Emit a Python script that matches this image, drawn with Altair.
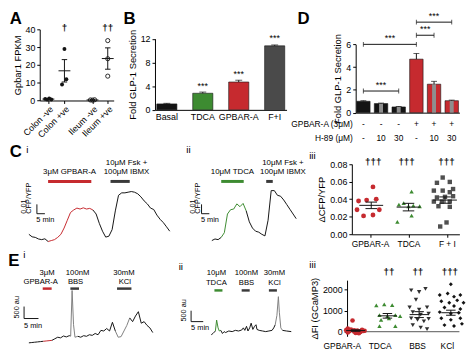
import altair as alt
import pandas as pd

FONT = 'Liberation Sans'
W_TOT, H_TOT = 458, 347
BLACK = '#141414'; RED = '#c62a2f'; GREEN = '#3d8b31'; DGRAY = '#4a4a4a'
MGRAY = '#808080'; STRIPE = '#8e8e8e'; BARG = '#3a3a3a'


def PX(x):  # reference-figure x -> chart pixel
    return 0.975 * (x - 2)


def PY(y):  # reference-figure y -> chart pixel
    return 0.95 * (y - 2)


# ---------------- Panel A data ----------------
A_labels = ['Colon -ve', 'Colon +ve', 'Ileum -ve', 'Ileum +ve']
A_pos = [1, 2, 3.75, 4.7]
A_x = [[0.8, 0.92, 1.05, 1.18], [2.0, 2.12, 1.85], [3.62, 3.75, 3.88], [4.7, 4.7, 4.7]]
A_y = [[0.9, 0.5, 1.1, 0.6], [29, 12, 9], [0.3, 0.2, 0.4], [33.7, 23.5, 13.7]]
A_filled = [True, True, False, False]
A_mean = [0.8, 16.7, 0.3, 23.6]
A_sem = [0.15, 6.3, 0.1, 6.0]
A_marks = ['', '†', '', '††']
# panel letters of the top row, placed in panel A's coordinates
ROW1_letters = ['A', 'B', 'D']
ROW1_letter_x = [-1.04, 6.06, 16.9]

# ---------------- Panel B data ----------------
B_cats = ['Basal', 'TDCA', 'GPBAR-A', 'F+I']
B_vals = [1.0, 2.8, 4.7, 10.8]
B_err = [0.1, 0.2, 0.3, 0.15]
B_cols = [BLACK, GREEN, RED, DGRAY]
B_sig = ['', '***', '***', '***']

# ---------------- Panel D data ----------------
D_ids = ['d1', 'd2', 'd3', 'd4', 'd5', 'd6']
D_vals = [1.0, 0.8, 0.5, 4.7, 2.5, 1.05]
D_err = [0.05, 0.04, 0.04, 0.5, 0.25, 0.05]
D_cols = [BLACK, BLACK, BLACK, RED, RED, RED]
D_striped = [False, True, True, False, True, True]
D_gpbar = ['-', '-', '-', '+', '+', '+']
D_h89 = ['-', '10', '30', '-', '10', '30']
D_br_from = ['d1', 'd1', 'd4', 'd4']
D_br_to = ['d3', 'd4', 'd5', 'd6']
D_br_y = [1.9, 6.0, 6.8, 7.95]
D_br_txt = ['d2', 'd2', 'd4', 'd5']
D_br_dx = [0, 9, 9, 0]

# ---------------- Panel C traces ----------------
Ci_t = list(range(0, 90, 2))
Ci_v = [10.0, 7.3, 6.7, 5.0, 4.3, 5.2, 2.3, 3.3, 4.3, 6.7, 10.0, 16.7, 25.0, 33.3, 36.0,
        38.0, 37.0, 38.3, 37.0, 37.7, 36.0, 31.7, 21.7, 13.3, 7.0, 8.0, 15.0, 35.0, 51.7,
        54.3, 54.3, 55.0, 55.7, 55.0, 53.3, 50.0, 45.7, 42.5, 38.0, 36.5, 30.5, 26.0, 22.5,
        18.0, 13.3]
Ci_segs = [(0, 12, BLACK), (12, 40, RED), (40, 88, BLACK)]
Cii_t = list(range(0, 56, 2))
Cii_v = [3.3, 5.0, 4.3, 6.7, 11.7, 31.7, 36.3, 37.0, 42.5, 39.5, 43.0, 35.0, 23.3, 16.7,
         13.3, 12.3, 10.0, 8.3, 25.0, 56.7, 56.7, 51.7, 50.7, 46.7, 41.7, 36.7, 31.7, 26.7]
Cii_segs = [(0, 6, BLACK), (6, 22, GREEN), (22, 54, BLACK)]

# ---------------- Panel C iii ----------------
Ciii_labels = ['GPBAR-A', 'TDCA', 'F + I']
Ciii_gp_x = [1.075, 0.70, 0.91, 1.16, 0.66, 0.83, 1.075, 1.24]
Ciii_gp_y = [0.054, 0.038, 0.039, 0.040, 0.028, 0.021, 0.022, 0.028]
Ciii_td_x = [2.08, 1.875, 1.75, 2.0, 2.125, 2.29, 1.71, 2.08]
Ciii_td_y = [0.0487, 0.0356, 0.0338, 0.032, 0.0327, 0.032, 0.0142, 0.0213]
Ciii_fi_x = [2.89, 3.075, 2.74, 3.16, 2.66, 2.89, 3.075, 2.74, 2.95, 3.16, 2.66, 2.87, 3.075,
             2.78, 3.075, 2.99, 2.825]
Ciii_fi_y = [0.0647, 0.0597, 0.0587, 0.0516, 0.0498, 0.0498, 0.048, 0.042, 0.0427, 0.0434,
             0.0373, 0.0373, 0.0373, 0.032, 0.0313, 0.0135, 0.0089]
Ciii_mpos = [1.03, 2.0, 2.95]
Ciii_mean = [0.033, 0.031, 0.039]
Ciii_sem = [0.0037, 0.0043, 0.0036]

# ---------------- Panel E traces ----------------
Ei_t = [0, 1, 2, 3, 4, 5, 6, 7, 8, 9, 10, 11, 12, 13, 14, 14.5, 15, 15.5, 16, 17, 18, 19, 20,
        21, 22, 23, 24, 25, 26, 27, 28, 29, 30, 31, 32, 33, 34, 35, 36, 37, 38, 39, 40, 41,
        42, 43]
Ei_v = [156, 169, 182, 195, 208, 221, 234, 247, 260, 325, 390, 364, 442, 403, 455, 442, 2340,
        910, 390, 429, 390, 455, 429, 494, 468, 546, 494, 676, 650, 754, 650, 1014, 650, 390,
        416, 650, 884, 1196, 1040, 1274, 1456, 975, 1040, 884, 780, 585]
Ei_segs = [(0, 5, BLACK), (5, 8, RED), (8, 14.5, BLACK), (14.5, 17, MGRAY), (17, 30, BLACK),
           (30, 35, MGRAY), (35, 43, BLACK)]
Eii_t = [0, 0.7, 1.7, 2.2, 2.8, 3.3, 3.9, 4.6, 5.3, 5.9, 7.2, 8.6, 9.9, 11.2, 12.5, 13.2, 13.8,
         14.5, 15.1, 15.8, 16.4, 17.1, 17.8, 18.4, 18.8, 19.7, 21.1, 22.4, 23.7, 25.0, 25.7,
         26.3, 27.0, 27.6, 28.0, 28.6, 29.3, 30.9, 32.9]
Eii_v = [114, 172, 286, 787, 429, 286, 315, 172, 257, 215, 286, 257, 315, 286, 329, 429, 315,
         500, 286, 429, 644, 358, 500, 572, 358, 315, 286, 257, 286, 315, 429, 572, 1001, 1859,
         1144, 429, 315, 286, 257]
Eii_segs = [(0, 1.7, BLACK), (1.7, 3.9, GREEN), (3.9, 26.3, BLACK), (26.3, 29.3, MGRAY),
            (29.3, 32.9, BLACK)]

# ---------------- Panel E iii ----------------
Eiii_labels = ['GPBAR-A', 'TDCA', 'BBS', 'KCl']
Eiii_label_x = [0.58, 1.77, 2.95, 3.89]
E_gp_y = [530, 150, 100, 80, 60, 50, 30, 20, 10, 0, -20, -40, -60, 40, 70, -80]
E_gp_dx = [-0.1, -0.25, -0.15, 0.2, -0.05, 0.05, 0.25, -0.2, 0.1, -0.05, 0.15, -0.25, 0.0, 0.28, -0.3, 0.1]
E_td_y = [1250, 1290, 1260, 780, 740, 780, 740, 560, 630, 265, 265]
E_td_dx = [-0.35, -0.1, 0.15, -0.25, 0.0, 0.25, 0.4, -0.2, 0.05, -0.25, 0.25]
E_bbs_y = [1955, 1880, 2030, 1514, 1147, 1044, 1147, 926, 808, 853, 632, 559, 485, 603, 309, 191, 118]
E_bbs_dx = [-0.25, 0, 0.2, -0.1, -0.3, 0, 0.25, -0.2, 0.05, 0.3, -0.25, -0.05, 0.15, 0.3, -0.2, 0.05, 0.25]
E_kcl_y = [2250, 1735, 1808, 1661, 1735, 1440, 1367, 1485, 1367, 1147, 1220, 1073, 926, 853, 897,
           632, 559, 632, 309, 265, 368]
E_kcl_dx = [0, -0.35, -0.1, 0.1, 0.3, -0.3, -0.05, 0.2, 0.4, -0.2, 0.1, 0.3, -0.35, 0, 0.25, -0.3,
            0, 0.3, -0.2, 0.1, 0.35]
E_mean = [50, 750, 808, 897]
E_sem = [35, 110, 140, 120]


# ================= helpers =================
def left_axis(x0, **kw):
    base = dict(orient='left', offset=-PX(x0), tickSize=3, titlePadding=3, labelOverlap=False,
                labelFlush=False, grid=False)
    base.update(kw)
    return alt.Axis(**base)


def bottom_axis(y0, **kw):
    base = dict(orient='bottom', offset=PY(y0) - H_TOT, tickSize=3, labelOverlap=False,
                labelFlush=False, grid=False, title=None)
    base.update(kw)
    return alt.Axis(**base)


def QX(dom, xr, axis=None):
    sc = alt.Scale(domain=dom, range=[PX(xr[0]), PX(xr[1])], nice=False, zero=False)
    return lambda f: alt.X(f, type='quantitative', scale=sc, axis=axis)


def QY(dom, yr, axis=None):
    sc = alt.Scale(domain=dom, range=[PY(yr[0]), PY(yr[1])], nice=False, zero=False)
    return lambda f: alt.Y(f, type='quantitative', scale=sc, axis=axis)


def texts(rows, X, Y, **kw):
    base = dict(font=FONT, fontSize=8, color='black', align='center', baseline='middle')
    base.update(kw)
    df = pd.DataFrame(rows, columns=['x', 'y', 'label'])
    return alt.Chart(df).mark_text(**base).encode(x=X('x'), y=Y('y'), text='label:N')


def rules(rows, X, Y):
    df = pd.DataFrame(rows, columns=['x', 'x2', 'y', 'y2', 'col', 'w'])
    return alt.Chart(df).mark_rule().encode(
        x=X('x'), x2='x2', y=Y('y'), y2='y2',
        color=alt.Color('col:N', scale=None), strokeWidth=alt.StrokeWidth('w:Q', scale=None))


def trace(t, v, segs, X, Y):
    rows = []
    for k, (a, b, col) in enumerate(segs):
        for ti, vi in zip(t, v):
            if a <= ti <= b:
                rows.append({'t': ti, 'v': vi, 'seg': k, 'col': col})
    df = pd.DataFrame(rows)
    return alt.Chart(df).mark_line(strokeWidth=1).encode(
        x=X('t'), y=Y('v'), detail='seg:N', order='t:Q', color=alt.Color('col:N', scale=None))


def summary(X, Y, mpos, means, sems, hw, cw):
    r = []
    for p, m, s in zip(mpos, means, sems):
        r.append((p - hw, p + hw, m, m, BLACK, 1))
        r.append((p, p, m - s, m + s, BLACK, 1))
        r.append((p - cw, p + cw, m + s, m + s, BLACK, 1))
        r.append((p - cw, p + cw, m - s, m - s, BLACK, 1))
    return rules(r, X, Y)


def label_expr(pos, labels):
    s = ''
    for p, l in zip(pos[:-1], labels[:-1]):
        s += f"datum.value == {p} ? '{l}' : "
    return s + f"'{labels[-1]}'"


DAG = dict(fontSize=10, fontWeight='bold', color='#111111')

# ================= Panel A =================
XA = QX([0.46, 5.07], (33, 110), bottom_axis(
    97, values=A_pos, labelExpr=label_expr(A_pos, A_labels), labelAngle=-45,
    labelAlign='right', labelBaseline='top', labelPadding=1))
YA = QY([0, 40], (97, 21), left_axis(33, values=[0, 10, 20, 30, 40], title='Gpbar1 FPKM'))
pts = []
for xs, ys, f in zip(A_x, A_y, A_filled):
    for xx, yy in zip(xs, ys):
        pts.append({'x': xx, 'y': yy, 'filled': f})
dfA = pd.DataFrame(pts)
panelA = alt.layer(
    alt.Chart(dfA[dfA.filled]).mark_point(filled=True, size=16, color=BLACK, opacity=1).encode(x=XA('x'), y=YA('y')),
    alt.Chart(dfA[~dfA.filled]).mark_point(filled=False, size=18, color=BLACK, strokeWidth=0.9, opacity=1).encode(x=XA('x'), y=YA('y')),
    summary(XA, YA, A_pos, A_mean, A_sem, 0.37, 0.17),
    texts([(p, 41, m) for p, m in zip(A_pos, A_marks) if m], XA, YA, **DAG),
    texts([(x, 50, l) for x, l in zip(ROW1_letter_x, ROW1_letters)], XA, YA, fontSize=17,
          fontWeight='bold', baseline='top'),
)

# ================= Panel B =================
scB = alt.Scale(domain=B_cats, range=[PX(153), PX(290)], paddingInner=0.44, paddingOuter=0.05)
axBx = bottom_axis(107, ticks=False, labelAngle=0, labelPadding=3)
XB = lambda f: alt.X(f, type='nominal', scale=scB, axis=axBx, sort=B_cats)
YB = QY([0, 12], (107, 31), left_axis(153, values=[0, 4, 8, 12], title='Fold GLP-1 Secretion'))
dfB = pd.DataFrame({'x': B_cats, 'val': B_vals,
                    'top': [v + e for v, e in zip(B_vals, B_err)], 'col': B_cols, 'sig': B_sig})
dfB['sy'] = dfB['top'] + 1.1
panelB = alt.layer(
    alt.Chart(dfB).mark_bar(stroke=BLACK, strokeWidth=0.6).encode(
        x=XB('x'), y=YB('val'), color=alt.Color('col:N', scale=None)),
    alt.Chart(dfB).mark_rule(color=BLACK).encode(x=XB('x'), y=YB('val'), y2='top'),
    alt.Chart(dfB).mark_tick(color=BLACK, thickness=1, size=7).encode(x=XB('x'), y=YB('top')),
    alt.Chart(dfB).mark_text(font=FONT, fontSize=9, baseline='middle').encode(
        x=XB('x'), y=YB('sy'), text='sig:N'),
)

# ================= Panel D =================
scD = alt.Scale(domain=D_ids, range=[PX(362), PX(470)], paddingInner=0.24, paddingOuter=0.055)
axDx = bottom_axis(110, labels=False, ticks=False)
XD = lambda f: alt.X(f, type='nominal', scale=scD, axis=axDx, sort=D_ids)
YD = QY([0, 6], (110, 37), left_axis(362, values=[0, 2, 4, 6], title='Fold GLP-1 Secretion'))
dfD = pd.DataFrame({'x': D_ids, 'val': D_vals, 'top': [v + e for v, e in zip(D_vals, D_err)],
                    'col': D_cols, 'striped': D_striped})
dfBr = pd.DataFrame({'x': D_br_from, 'x2': D_br_to, 'y': D_br_y})
dfBt = pd.DataFrame({'x': D_br_from + D_br_to, 'y': D_br_y + D_br_y})
panelD = alt.layer(
    alt.Chart(dfD).mark_bar(stroke=BLACK, strokeWidth=0.6).encode(
        x=XD('x'), y=YD('val'), color=alt.Color('col:N', scale=None)),
    alt.Chart(dfD[dfD.striped]).mark_bar(size=4, color=STRIPE).encode(x=XD('x'), y=YD('val')),
    alt.Chart(dfD).mark_rule(color=BLACK).encode(x=XD('x'), y=YD('val'), y2='top'),
    alt.Chart(dfD).mark_tick(color=BLACK, thickness=1, size=6).encode(x=XD('x'), y=YD('top')),
    alt.Chart(dfBr).mark_rule(color=BLACK).encode(x=XD('x'), x2='x2', y=YD('y')),
    alt.Chart(dfBt).mark_tick(color=BLACK, orient='vertical', size=5, thickness=1).encode(x=XD('x'), y=YD('y')),
    *[texts([(c, y + 0.55, '***')], XD, YD, fontSize=9, dx=d) for c, y, d in zip(D_br_txt, D_br_y, D_br_dx)],
    texts([(c, -0.98, s) for c, s in zip(D_ids, D_gpbar)], XD, YD, fontSize=8.5),
    texts([(c, -2.2, s) for c, s in zip(D_ids, D_h89)], XD, YD, fontSize=8.5),
    texts([('d1', -0.98, 'GPBAR-A (3μM)'), ('d1', -2.2, 'H-89 (μM)')], XD, YD, fontSize=8.5,
          align='right', dx=-10.7),
)

# ================= Panel C i =================
XCi = QX([-6, 90], (11.7, 171.7)); YCi = QY([0, 90], (250, 160))
panelCi = alt.layer(
    trace(Ci_t, Ci_v, Ci_segs, XCi, YCi),
    rules([(12, 39, 66.5, 66.5, RED, 3), (51, 63, 66.5, 66.5, BARG, 3),
           (5, 5, 32, 42, BLACK, 1), (5, 10, 32, 32, BLACK, 1)], XCi, YCi),
    texts([(25.4, 77, '3μM GPBAR-A'), (61, 86, '10μM Fsk +'), (61, 77, '100μM IBMX')], XCi, YCi),
    texts([(4.6, 25, '5 min')], XCi, YCi, fontSize=7.5, align='left'),
    texts([(-3.1, 32, '0.01'), (0.2, 32, 'CFP/YFP')], XCi, YCi, fontSize=7.5, align='left', angle=270),
    texts([(-8.2, 97.5, 'C')], XCi, YCi, fontSize=17, fontWeight='bold'),
    texts([(-1, 100, 'i')], XCi, YCi, fontSize=10),
)

# ================= Panel C ii =================
XCii = QX([-12, 56], (192.7, 303.3)); YCii = QY([0, 90], (250, 160))
panelCii = alt.layer(
    trace(Cii_t, Cii_v, Cii_segs, XCii, YCii),
    rules([(6, 20.4, 66.5, 66.5, GREEN, 3), (34.8, 39, 66.5, 66.5, BARG, 3),
           (-6.6, -6.6, 32, 42, BLACK, 1), (-6.6, -1.6, 32, 32, BLACK, 1)], XCii, YCii),
    texts([(13.2, 77, '10μM TDCA'), (45.5, 86, '10μM Fsk +'), (45.5, 77, '100μM IBMX')], XCii, YCii),
    texts([(-7, 25, '5 min')], XCii, YCii, fontSize=7.5, align='left'),
    texts([(-12, 32, '0.01'), (-8.7, 32, 'CFP/YFP')], XCii, YCii, fontSize=7.5, align='left', angle=270),
    texts([(-15, 100, 'ii')], XCii, YCii, fontSize=10),
)

# ================= Panel C iii =================
XC3 = QX([0.525, 3.325], (358, 470), bottom_axis(
    240, values=[1, 2, 3], labelExpr=label_expr([1, 2, 3], Ciii_labels), labelPadding=2,
    labelFontSize=8.5))
YC3 = QY([0, 0.08], (240, 165), left_axis(358, values=[0, 0.02, 0.04, 0.06, 0.08], format='.2f',
                                           title='ΔCFP/YFP'))
panelCiii = alt.layer(
    alt.Chart(pd.DataFrame({'x': Ciii_gp_x, 'y': Ciii_gp_y})).mark_point(
        filled=True, shape='circle', size=24, color=RED, opacity=1).encode(x=XC3('x'), y=YC3('y')),
    alt.Chart(pd.DataFrame({'x': Ciii_td_x, 'y': Ciii_td_y})).mark_point(
        filled=True, shape='triangle-up', size=20, color=GREEN, opacity=1).encode(x=XC3('x'), y=YC3('y')),
    alt.Chart(pd.DataFrame({'x': Ciii_fi_x, 'y': Ciii_fi_y})).mark_point(
        filled=True, shape='square', size=20, color='#505050', opacity=1).encode(x=XC3('x'), y=YC3('y')),
    summary(XC3, YC3, Ciii_mpos, Ciii_mean, Ciii_sem, 0.31, 0.15),
    texts([(1.08, 0.0821, '†††'), (1.95, 0.0821, '†††'), (2.99, 0.0821, '†††')], XC3, YC3, **DAG),
    texts([(-0.5, 0.0889, 'iii')], XC3, YC3, fontSize=10),
)

# ================= Panel E i =================
XEi = QX([-6, 45], (3.7, 156.7)); YEi = QY([0, 3200], (360, 278))
panelEi = alt.layer(
    trace(Ei_t, Ei_v, Ei_segs, XEi, YEi),
    rules([(4.8, 7.9, 2418, 2418, RED, 2.5), (14.4, 17.4, 2418, 2418, BARG, 2.5),
           (30.6, 35.6, 2418, 2418, BARG, 2.5),
           (-1.67, -1.67, 1170, 1670, BLACK, 1), (-1.67, 3.33, 1170, 1170, BLACK, 1)], XEi, YEi),
    texts([(6.3, 3060, '3μM'), (16.9, 3060, '100nM'), (33, 3060, '30mM'),
           (4.1, 2680, 'GPBAR-A'), (16.2, 2680, 'BBS'), (33.3, 2680, 'KCl')], XEi, YEi, fontSize=7.8),
    texts([(-1.67, 845, '5 min')], XEi, YEi, fontSize=7.5, align='left'),
    texts([(-4.1, 1170, '500 au')], XEi, YEi, fontSize=7.5, align='left', angle=270),
    texts([(-5.2, 3549, 'E')], XEi, YEi, fontSize=17, fontWeight='bold'),
    texts([(-1.56, 3822, 'i')], XEi, YEi, fontSize=10),
)

# ================= Panel E ii =================
XEii = QX([-13, 34], (178.7, 297.7)); YEii = QY([0, 3100], (350, 277.7))
panelEii = alt.layer(
    trace(Eii_t, Eii_v, Eii_segs, XEii, YEii),
    rules([(1.3, 4.6, 2145, 2145, GREEN, 2.5), (12.5, 15.8, 2145, 2145, BARG, 2.5),
           (23.7, 27, 2145, 2145, BARG, 2.5),
           (-8.3, -8.3, 715, 1215, BLACK, 1), (-8.3, -3.3, 715, 715, BLACK, 1)], XEii, YEii),
    texts([(2.1, 2930, '10μM'), (14.5, 2930, '100nM'), (26, 2930, '30mM'),
           (2.1, 2480, 'TDCA'), (14.5, 2480, 'BBS'), (26, 2480, 'KCl')], XEii, YEii, fontSize=7.8),
    texts([(-8.3, 429, '5 min')], XEii, YEii, fontSize=7.5, align='left'),
    texts([(-11.2, 715, '500 au')], XEii, YEii, fontSize=7.5, align='left', angle=270),
    texts([(-12.5, 3218, 'ii')], XEii, YEii, fontSize=10),
)

# ================= Panel E iii =================
XE3 = QX([0.727, 4.27], (353, 470))
YE3 = QY([-222, 2444], (349, 289), left_axis(353, values=[0, 1000, 2000], format='d',
                                             title='ΔFI (GCaMP3)'))


def epts(center, dxs, ys, shape, color, size):
    df = pd.DataFrame({'x': [center + d for d in dxs], 'y': ys})
    return alt.Chart(df).mark_point(filled=True, shape=shape, size=size, color=color, opacity=1).encode(
        x=XE3('x'), y=YE3('y'))


zero_rows = [(0.727, 4.27, 0, 0, '#7a7a7a', 1.2)]
panelEiii = alt.layer(
    rules(zero_rows, XE3, YE3),
    epts(1, E_gp_dx, E_gp_y, 'circle', RED, 22),
    epts(2, E_td_dx, E_td_y, 'triangle-up', GREEN, 20),
    epts(3, E_bbs_dx, E_bbs_y, 'triangle-down', '#303030', 20),
    epts(4, E_kcl_dx, E_kcl_y, 'diamond', BLACK, 16),
    summary(XE3, YE3, [1, 2, 3, 4], E_mean, E_sem, 0.3, 0.15),
    texts([(2.05, 2844, '††'), (2.96, 2844, '††'), (3.97, 2844, '†††')], XE3, YE3, **DAG),
    texts([(-0.36, 3156, 'iii')], XE3, YE3, fontSize=10),
    texts([(x, -690, l) for x, l in zip(Eiii_label_x, Eiii_labels)], XE3, YE3, fontSize=8.5),
)

chart = alt.layer(
    panelA, panelB, panelD, panelCi, panelCii, panelCiii, panelEi, panelEii, panelEiii
).resolve_scale(x='independent', y='independent').resolve_axis(
    x='independent', y='independent'
).properties(width=W_TOT, height=H_TOT, padding=0).configure_view(stroke=None).configure_axis(
    grid=False, domainColor='black', tickColor='black', labelColor='black', titleColor='black',
    labelFont=FONT, titleFont=FONT, labelFontSize=9, titleFontSize=9.5, titleFontWeight='normal',
    domainWidth=1, tickWidth=1
)

chart.save("out.html", embed_options={"renderer": "svg", "actions": False})
